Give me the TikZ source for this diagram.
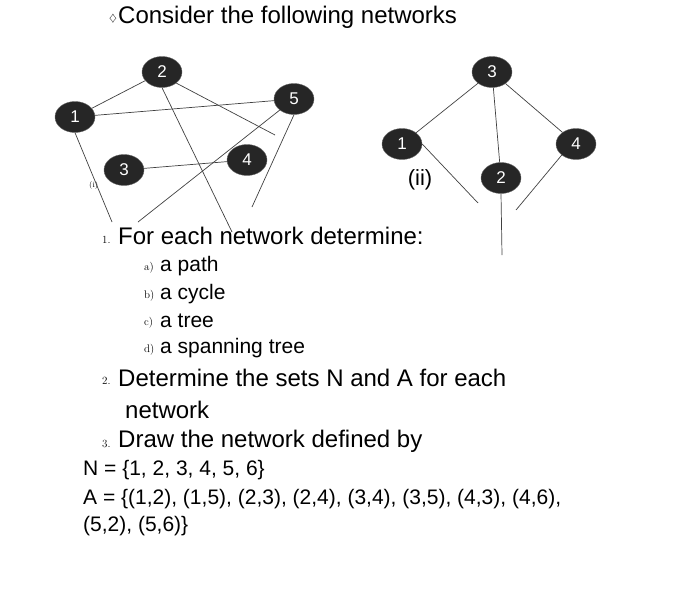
\documentclass[tikz,border=0pt]{standalone}
\usepackage{fontspec}
\setmainfont{Liberation Sans}
\usepackage{amssymb}
\tikzset{
   net node/.style={ellipse,fill=black!85,draw=black!60,minimum width=40pt,minimum height=31pt,inner sep=0pt,text=white,font=\fontsize{17}{17}\selectfont},
   net edge/.style={draw=black!75,line width=0.7pt},
   big text/.style={anchor=west,inner sep=0pt,font=\fontsize{24}{26}\selectfont},
   mid text/.style={anchor=west,inner sep=0pt,font=\fontsize{21}{23}\selectfont},
   num text/.style={anchor=west,inner sep=0pt,font=\fontfamily{lmr}\fontsize{11}{11}\selectfont}
}
\usetikzlibrary{shapes}
\begin{document}
\begin{tikzpicture}[x=1pt,y=-1pt]
\useasboundingbox (0,0) rectangle (700,597);
% network (i)
\node[net node] (a1) at (75,117) {1};
\node[net node] (a2) at (162,72) {2};
\node[net node] (a5) at (294,99) {5};
\node[net node] (a3) at (124,170) {3};
\node[net node] (a4) at (247,160) {4};
\coordinate (f1) at (112,222);
\coordinate (f2) at (232,232);
\coordinate (f3) at (275,135);
\coordinate (f4) at (138,222);
\coordinate (f5) at (252,207);
\node[num text,font=\fontfamily{lmr}\fontsize{8}{8}\selectfont] (lab1) at (89,185) {(i)};
%
\path[net edge]
  (a1) edge (a2)
  (a1) edge (a5)
  (a3) edge (a4)
  (a2.south east) edge (f3)
  (a2.south) edge (f2)
  (a5.south west) edge (f4)
  (a5.south) edge (f5)
  (a1.south) edge (f1)
  ;
% network (ii)
\node[net node] (b3) at (492,72) {3};
\node[net node] (b1) at (402,144) {1};
\node[net node] (b4) at (576,144) {4};
\node[net node] (b2) at (501,178) {2};
\coordinate (g1) at (478,203);
\coordinate (g2) at (502,255);
\coordinate (g4) at (516,210);
\node[anchor=center,font=\fontsize{22}{22}\selectfont] (lab2) at (420,180) {(ii)};
\path[net edge]
  (b3) edge (b1)
  (b3) edge (b2)
  (b3) edge (b4)
  (b1.east) edge (g1)
  (b2.south) edge (g2)
  (b4.south west) edge (g4)
  ;
% text
\node[anchor=east,inner sep=0pt,font=\fontsize{10}{10}\selectfont] (bul) at (117,19) {$\diamondsuit$};
\node[big text] (t0) at (118,17) {Consider the following networks};
\node[num text] (n1) at (102,240) {1.};
\node[big text] (t1) at (118,236) {For each network determine:};
\node[num text] (na) at (144,268) {a)};
\node[mid text] (ta) at (160,266) {a path};
\node[num text] (nb) at (144,296) {b)};
\node[mid text] (tb) at (160,294) {a cycle};
\node[num text] (nc) at (144,323) {c)};
\node[mid text] (tc) at (160,321) {a tree};
\node[num text] (nd) at (144,350) {d)};
\node[mid text] (td) at (160,348) {a spanning tree};
\node[num text] (n2) at (102,381) {2.};
\node[big text] (t2) at (118,378) {Determine the sets N and A for each};
\node[big text] (t2b) at (125,410) {network};
\node[num text] (n3) at (102,444) {3.};
\node[big text] (t3) at (118,441) {Draw the network defined by};
\node[mid text] (tn) at (83,470) {N = \{1, 2, 3, 4, 5, 6\}};
\node[mid text] (tA) at (83,499) {A = \{(1,2), (1,5), (2,3), (2,4), (3,4), (3,5), (4,3), (4,6),};
\node[mid text] (tA2) at (83,526) {(5,2), (5,6)\}};
\end{tikzpicture}
\end{document}
